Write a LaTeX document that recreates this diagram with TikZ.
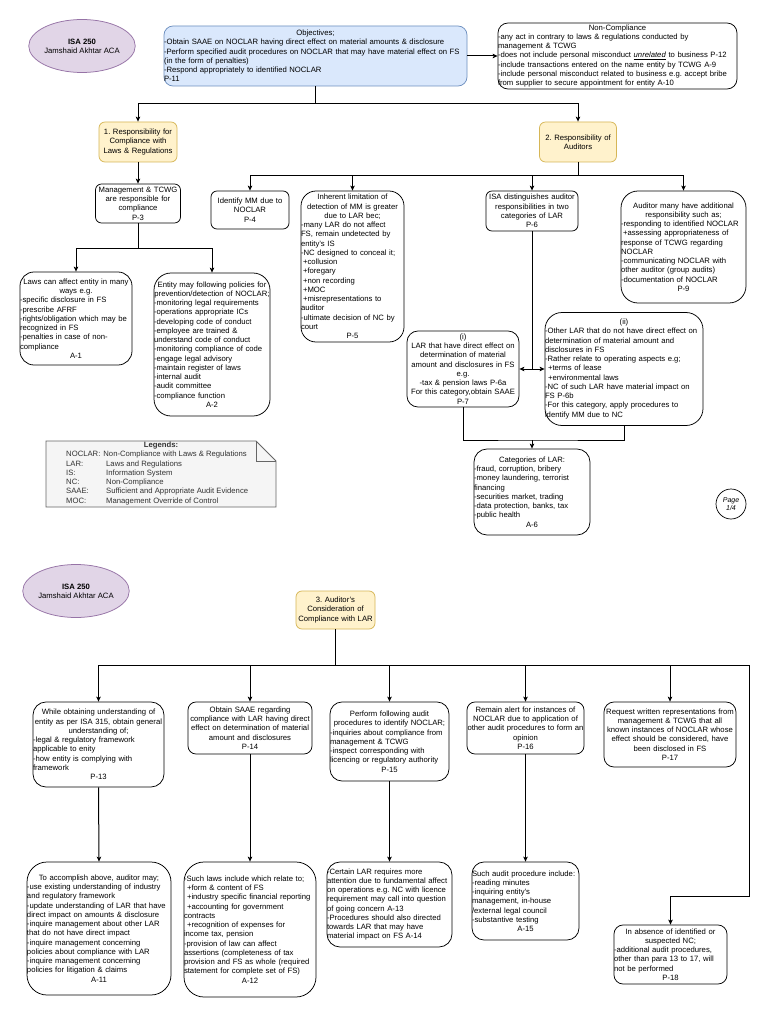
\documentclass[tikz,border=0pt]{standalone}
\usepackage{fontspec}
\setmainfont{Liberation Sans}
\usetikzlibrary{arrows.meta,shapes.geometric}
\definecolor{purF}{HTML}{E1D5E7}\definecolor{purD}{HTML}{9673A6}
\definecolor{bluF}{HTML}{DAE8FC}\definecolor{bluD}{HTML}{6C8EBF}
\definecolor{yelF}{HTML}{FFF2CC}\definecolor{yelD}{HTML}{D6B656}
\definecolor{greF}{HTML}{F5F5F5}\definecolor{greD}{HTML}{666666}\definecolor{greT}{HTML}{333333}
\frenchspacing
\newcommand\fs{\fontsize{7.7}{9.25}\selectfont\frenchspacing}
\newcommand\Lf[1]{\makebox[\linewidth][l]{#1}}
\tikzset{
  rbox/.style={draw=black, fill=white, line width=0.75pt, inner xsep=0pt, inner ysep=0pt, align=center, font=\fs},
  bluebox/.style={draw=bluD, fill=bluF},
  yelbox/.style={draw=yelD, fill=yelF},
  ell/.style={ellipse, draw=purD, fill=purF, line width=0.75pt, minimum width=100pt, minimum height=53pt, inner sep=0pt, align=center, font=\fs},
  ln/.style={draw=black, line width=1pt},
  arr/.style={ln, -{Stealth[length=5pt,width=4.5pt,inset=1.2pt]}},
  darr/.style={ln, {Stealth[length=5pt,width=4.5pt,inset=1.2pt]}-{Stealth[length=5pt,width=4.5pt,inset=1.2pt]}},
  notefill/.style={draw=greD, fill=greF, line width=0.75pt},
  legtxt/.style={font=\fs, text=greT, inner sep=0pt, align=left},
  pagec/.style={circle, draw=black, line width=0.7pt, minimum size=30pt, inner sep=0pt, align=center, font=\fontsize{7}{7.6}\selectfont\itshape}
}
% [style]{name}{cx}{cy}{W}{H}{r}{content}
\newcommand\bx[8][]{\node[rbox,#1,rounded corners=#7pt,minimum width=#5pt,minimum height=#6pt,text width=#5pt] (#2) at (#3,#4) {#8};}
\begin{document}
\begin{tikzpicture}[x=1pt,y=-1pt]
\useasboundingbox (0,0) rectangle (768,1024);
\fill[white] (0,0) rectangle (768,1024);

% ---------------- Page 1 ----------------
\node[ell] (isa1) at (82,46) {\textbf{ISA 250}\\Jamshaid Akhtar ACA};

\bx[bluebox]{obj}{315.5}{56}{303}{60}{9}{Objectives;\\
\Lf{-Obtain SAAE on NOCLAR having direct effect on material amounts \& disclosure}\\
\Lf{-Perform specified audit procedures on NOCLAR that may have material effect on FS}\\
\Lf{(in the form of penalties)}\\
\Lf{-Respond appropriately to identified NOCLAR}\\
\Lf{P-11}}

\bx{nc}{617.5}{56}{239}{66}{10}{Non-Compliance\\
\Lf{-any act in contrary to laws \& regulations conducted by}\\
\Lf{management \& TCWG}\\
\Lf{-does not include personal misconduct \underline{\textit{unrelated}} to business P-12}\\
\Lf{-include transactions entered on the name entity by TCWG A-9}\\
\Lf{-include personal misconduct related to business e.g. accept bribe}\\
\Lf{from supplier to secure appointment for entity A-10}}

\bx[yelbox]{b1}{138}{142}{78}{40}{6}{1. Responsibility for\\Compliance with\\Laws \& Regulations}
\bx[yelbox]{b2}{578}{142}{77}{40}{6}{2. Responsibility of\\Auditors}

\bx{mg}{138}{203.5}{85}{39}{6}{Management \& TCWG\\are responsible for\\compliance\\P-3}

\bx{laws}{76}{318.5}{112}{93}{14}{Laws can affect entity in many\\ways e.g.\\
\Lf{-specific disclosure in FS}\\
\Lf{-prescribe AFRF}\\
\Lf{-rights/obligation which may be}\\
\Lf{recognized in FS}\\
\Lf{-penalties in case of non-}\\
\Lf{compliance}\\
A-1}

\bx{ent}{212}{344.5}{116}{143}{17}{Entity may following policies for\\prevention/detection of NOCLAR;\\
\Lf{-monitoring legal requirements}\\
\Lf{-operations appropriate ICs}\\
\Lf{-developing code of conduct}\\
\Lf{-employee are trained \&}\\
\Lf{understand code of conduct}\\
\Lf{-monitoring compliance of code}\\
\Lf{-engage legal advisory}\\
\Lf{-maintain register of laws}\\
\Lf{-internal audit}\\
\Lf{-audit committee}\\
\Lf{-compliance function}\\
A-2}

\bx{idm}{250}{210}{78}{38}{6}{Identify MM due to\\NOCLAR\\P-4}

\bx{inh}{352.5}{266.5}{103}{151}{15}{Inherent limitation of\\detection of MM is greater\\due to LAR bec;\\
\Lf{-many LAR do not affect}\\
\Lf{FS, remain undetected by}\\
\Lf{entity's IS}\\
\Lf{-NC designed to conceal it;}\\
\Lf{\hspace{2pt}+collusion}\\
\Lf{\hspace{2pt}+foregary}\\
\Lf{\hspace{2pt}+non recording}\\
\Lf{\hspace{2pt}+MOC}\\
\Lf{\hspace{2pt}+misrepresentations to}\\
\Lf{auditor}\\
\Lf{-ultimate decision of NC by}\\
\Lf{court}\\
P-5}

\bx{isd}{532}{211}{92}{40}{6}{ISA distinguishes auditor\\responsibilities in two\\categories of LAR\\P-6}

\bx{aud}{683.5}{247}{125}{112}{17}{Auditor many have additional\\responsibility such as;\\
\Lf{-responding to identified NOCLAR}\\
\Lf{\hspace{2pt}+assessing appropriateness of}\\
\Lf{response of TCWG regarding}\\
\Lf{NOCLAR}\\
\Lf{-communicating NOCLAR with}\\
\Lf{other auditor (group audits)}\\
\Lf{-documentation of NOCLAR}\\
P-9}

\bx{ci}{463}{369}{112}{76}{11}{(i)\\LAR that have direct effect on\\determination of material\\amount and disclosures in FS\\e.g.\\-tax \& pension laws P-6a\\For this category,obtain SAAE\\P-7}

\bx{cii}{624}{369}{158}{113}{17}{(ii)\\
\Lf{-Other LAR that do not have direct effect on}\\
\Lf{determination of material amount and}\\
\Lf{disclosures in FS}\\
\Lf{-Rather relate to operating aspects e.g;}\\
\Lf{\hspace{3pt}+terms of lease}\\
\Lf{\hspace{3pt}+environmental laws}\\
\Lf{-NC of such LAR have material impact on}\\
\Lf{FS P-6b}\\
\Lf{-For this category, apply procedures to}\\
\Lf{identify MM due to NC}}

\bx{cat}{532}{492}{116}{86}{13}{Categories of LAR:\\
\Lf{-fraud, corruption, bribery}\\
\Lf{-money laundering, terrorist}\\
\Lf{financing}\\
\Lf{-securities market, trading}\\
\Lf{-data protection, banks, tax}\\
\Lf{-public health}\\
A-6}

\node[pagec] (pg) at (731,504) {Page\\1/4};

% legend (note shape)
\path[notefill] (46,441) -- (256,441) -- (276,461) -- (276,507) -- (46,507) -- cycle;
\draw[draw=greD, line width=0.75pt] (256,441) -- (256,461) -- (276,461);
\node[legtxt, anchor=north] (legT) at (161,442) {\textbf{Legends:}};
\node[legtxt, anchor=north west] (legB) at (66,451) {NOCLAR:\hspace{3pt}Non-Compliance with Laws \& Regulations\\
\makebox[40pt][l]{LAR:}Laws and Regulations\\
\makebox[40pt][l]{IS:}Information System\\
\makebox[40pt][l]{NC:}Non-Compliance\\
\makebox[40pt][l]{SAAE:}Sufficient and Appropriate Audit Evidence\\
\makebox[40pt][l]{MOC:}Management Override of Control};

% connectors page 1
\draw[arr] (obj.east) -- (nc.west);
\coordinate (j0) at (315.5,104);
\draw[ln] (obj.south) -- (j0);
\draw[arr] (j0) -| (b1.north);
\draw[arr] (j0) -| (b2.north);
\draw[arr] (b1.south) -- (mg.north);
\coordinate (j1) at (138,248);
\draw[ln] (mg.south) -- (j1);
\draw[arr] (j1) -| (laws.north);
\draw[arr] (j1) -| (ent.north);
\coordinate (j2) at (578,176);
\draw[ln] (b2.south) -- (j2);
\draw[arr] (j2) -| (idm.north);
\draw[arr] (j2) -| (inh.north);
\draw[arr] (j2) -| (isd.north);
\draw[arr] (j2) -| (aud.north);
\draw[ln] (isd.south) -- (isd.south |- ci.east);
\draw[darr] (ci.east) -- (cii.west);
\coordinate (j3) at (532,440);
\draw[ln] (ci.south) |- (j3) -| (cii.south);
\draw[arr] (j3) -- (cat.north);

% ---------------- Page 2 ----------------
\node[ell] (isa2) at (76,591) {\textbf{ISA 250}\\Jamshaid Akhtar ACA};

\bx[yelbox]{b3}{335.5}{610}{79}{38}{6}{3. Auditor's\\Consideration of\\Compliance with LAR}

\bx{p13}{98.5}{744.5}{131}{85}{13}{While obtaining understanding of\\entity as per ISA 315, obtain general\\understanding of;\\
\Lf{-legal \& regulatory framework}\\
\Lf{applicable to enity}\\
\Lf{-how entity is complying with}\\
\Lf{framework}\\
P-13}

\bx{p14}{250}{728}{124}{52}{8}{Obtain SAAE regarding\\compliance with LAR having direct\\effect on determination of material\\amount and disclosures\\P-14}

\bx{p15}{389.5}{741.5}{119}{79}{12}{Perform following audit\\procedures to identify NOCLAR;\\
\Lf{-inquiries about compliance from}\\
\Lf{management \& TCWG}\\
\Lf{-inspect corresponding with}\\
\Lf{licencing or regulatory authority}\\
P-15}

\bx{p16}{525.5}{728}{117}{52}{8}{Remain alert for instances of\\NOCLAR due to application of\\other audit procedures to form an\\opinion\\P-16}

\bx{p17}{670}{734.5}{132}{65}{10}{Request written representations from\\management \& TCWG that all\\known instances of NOCLAR whose\\effect should be considered, have\\been disclosed in FS\\P-17}

\bx{a11}{99}{928.5}{144}{133}{20}{To accomplish above, auditor may;\\
\Lf{-use existing understanding of industry}\\
\Lf{and regulatory framework}\\
\Lf{-update understanding of LAR that have}\\
\Lf{direct impact on amounts \& disclosure}\\
\Lf{-inquire management about other LAR}\\
\Lf{that do not have direct impact}\\
\Lf{-inquire management concerning}\\
\Lf{policies about compliance with LAR}\\
\Lf{-inquire management concerning}\\
\Lf{policies for litigation \& claims}\\
A-11}

\bx{a12}{250}{929.5}{132}{135}{20}{\Lf{-Such laws include which relate to;}\\
\Lf{\hspace{3pt}+form \& content of FS}\\
\Lf{\hspace{3pt}+industry specific financial reporting}\\
\Lf{\hspace{3pt}+accounting for government}\\
\Lf{contracts}\\
\Lf{\hspace{3pt}+recognition of expenses for}\\
\Lf{income tax, pension}\\
\Lf{-provision of law can affect}\\
\Lf{assertions (completeness of tax}\\
\Lf{provision and FS as whole (required}\\
\Lf{statement for complete set of FS)}\\
A-12}

\bx{a13}{389.5}{904.5}{125}{85}{13}{\Lf{-Certain LAR requires more}\\
\Lf{attention due to fundamental affect}\\
\Lf{on operations e.g. NC with licence}\\
\Lf{requirement may call into question}\\
\Lf{of going concern A-13}\\
\Lf{-Procedures should also directed}\\
\Lf{towards LAR that may have}\\
\Lf{material impact on FS A-14}}

\bx{a15}{525.5}{901}{107}{78}{12}{\Lf{Such audit procedure include:}\\
\Lf{-reading minutes}\\
\Lf{-inquiring entity's}\\
\Lf{management, in-house}\\
\Lf{/external legal council}\\
\Lf{-substantive testing}\\
A-15}

\bx{p18}{670.5}{954.5}{113}{59}{9}{In absence of identified or\\suspected NC;\\
\Lf{-additional audit procedures,}\\
\Lf{other than para 13 to 17, will}\\
\Lf{not be performed}\\
P-18}

% connectors page 2
\coordinate (j4) at (335.5,665);
\coordinate (r1) at (749,665);
\coordinate (r2) at (749,896);
\draw[ln] (b3.south) -- (j4);
\draw[arr] (j4) -| (p13.north);
\draw[arr] (j4) -| (p14.north);
\draw[arr] (j4) -| (p15.north);
\draw[arr] (j4) -| (p16.north);
\draw[arr] (j4) -| (p17.north);
\draw[arr] (j4) -- (r1) -- (r2) -| (p18.north);
\draw[arr] (p13.south) -- (a11.north);
\draw[arr] (p14.south) -- (a12.north);
\draw[arr] (p15.south) -- (a13.north);
\draw[arr] (p16.south) -- (a15.north);
\end{tikzpicture}
\end{document}
